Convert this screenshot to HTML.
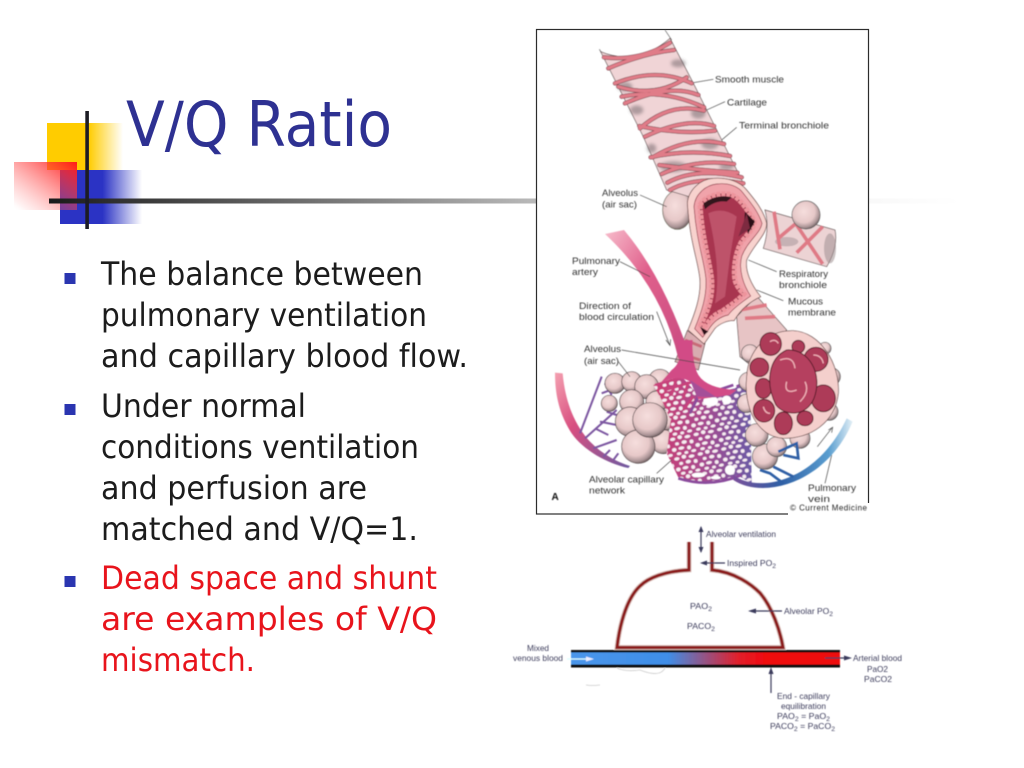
<!DOCTYPE html>
<html><head><meta charset="utf-8"><title>V/Q Ratio</title>
<style>html,body{margin:0;padding:0;background:#fff}svg{display:block}
text{font-variant-ligatures:none}
.b{font-family:"DejaVu Sans","Liberation Sans",sans-serif;font-size:32px;fill:#1c1c1c}
.r{fill:#e8141c}
.l{font-family:"Liberation Sans",sans-serif;font-size:9.5px;fill:#333}
.d{font-family:"Liberation Sans",sans-serif;font-size:8.3px;fill:#3d3d5c}
.s{font-size:6.5px}
.bu{fill:#2a35b0}
</style></head><body>
<svg width="1024" height="768" viewBox="0 0 1024 768" xmlns="http://www.w3.org/2000/svg">
<defs>
<linearGradient id="yg"><stop offset="0" stop-color="#ffcc00"/><stop offset=".55" stop-color="#ffcc00"/><stop offset="1" stop-color="#ffcc00" stop-opacity="0"/></linearGradient>
<linearGradient id="bg"><stop offset="0" stop-color="#2b33c4"/><stop offset=".52" stop-color="#2b33c4"/><stop offset="1" stop-color="#2b33c4" stop-opacity="0"/></linearGradient>
<linearGradient id="rg" x1="1" y1="0" x2="0" y2="1"><stop offset="0" stop-color="#ff1a1a"/><stop offset=".9" stop-color="#ff6a6a" stop-opacity=".08"/><stop offset="1" stop-color="#fff" stop-opacity="0"/></linearGradient>
<linearGradient id="lg"><stop offset="0" stop-color="#1a1a1a"/><stop offset=".28" stop-color="#6e6e6e"/><stop offset=".53" stop-color="#b8b8b8"/><stop offset=".8" stop-color="#f2f2f2"/><stop offset="1" stop-color="#fff"/></linearGradient>
<linearGradient id="vg"><stop offset="0" stop-color="#4a96ea"/><stop offset=".36" stop-color="#3f8ee8"/><stop offset=".62" stop-color="#e0202c"/><stop offset=".72" stop-color="#f00a10"/><stop offset="1" stop-color="#ee0a10"/></linearGradient>
<radialGradient id="sp" cx=".42" cy=".38" r=".66"><stop offset="0" stop-color="#f6dedd"/><stop offset=".6" stop-color="#e6c8c8"/><stop offset=".85" stop-color="#a89294"/><stop offset="1" stop-color="#5e5052"/></radialGradient>
<linearGradient id="art" x1="0" y1="0" x2="1" y2="1"><stop offset="0" stop-color="#f7bccb"/><stop offset=".4" stop-color="#e0608c"/><stop offset="1" stop-color="#c84a80"/></linearGradient>
<linearGradient id="net"><stop offset="0" stop-color="#cf3c70"/><stop offset=".5" stop-color="#a84a90"/><stop offset="1" stop-color="#6b5aa5"/></linearGradient>
<linearGradient id="lar" x1="0" y1="0" x2="1" y2="1"><stop offset="0" stop-color="#f4a0b0"/><stop offset=".4" stop-color="#d84f80"/><stop offset="1" stop-color="#6d5aa0"/></linearGradient>
<linearGradient id="vn" x1="0" y1="0" x2="1" y2="0"><stop offset="0" stop-color="#7a4f9a"/><stop offset=".4" stop-color="#2e5fa5"/><stop offset=".8" stop-color="#5a9ed0"/><stop offset="1" stop-color="#e4f0f6"/></linearGradient>
<pattern id="holes" width="72" height="60" patternUnits="userSpaceOnUse" patternTransform="rotate(-12)">
<g fill="#f8eef2">
<ellipse cx="10" cy="8" rx="8" ry="5"/><ellipse cx="32" cy="6" rx="7" ry="6"/><ellipse cx="55" cy="9" rx="9" ry="5"/>
<ellipse cx="20" cy="24" rx="6" ry="5"/><ellipse cx="42" cy="23" rx="8" ry="5.500"/><ellipse cx="64" cy="26" rx="6" ry="6"/>
<ellipse cx="8" cy="40" rx="7" ry="6"/><ellipse cx="30" cy="39" rx="9" ry="5"/><ellipse cx="53" cy="42" rx="6" ry="6"/>
<ellipse cx="20" cy="54" rx="7" ry="4.500"/><ellipse cx="42" cy="55" rx="6" ry="4.500"/><ellipse cx="65" cy="54" rx="8" ry="4.500"/>
</g></pattern>
<filter id="soft" x="-5%" y="-5%" width="110%" height="110%"><feGaussianBlur stdDeviation=".4"/></filter>
<filter id="soft2" x="-30%" y="-30%" width="160%" height="160%"><feGaussianBlur stdDeviation="5"/></filter>
</defs>

<!-- decoration -->
<rect x="47" y="123" width="76" height="47" fill="url(#yg)"/>
<rect x="60" y="170" width="82" height="54" fill="url(#bg)"/>
<rect x="14" y="162" width="63" height="48" fill="url(#rg)"/>
<rect x="49" y="198.500" width="911" height="5" fill="url(#lg)"/>
<rect x="85.300" y="111" width="3.600" height="118" fill="#1c1c24"/>

<text x="126" y="146" textLength="266" lengthAdjust="spacingAndGlyphs" font-family="DejaVu Sans, Liberation Sans, sans-serif" font-size="62" fill="#2e3192">V/Q Ratio</text>

<!-- bullets -->
<rect class="bu" x="64.500" y="273" width="11" height="11"/>
<rect class="bu" x="64.500" y="404" width="11" height="11"/>
<rect class="bu" x="64.500" y="576" width="11" height="11"/>
<g>
<text class="b" x="101" y="285" textLength="322" lengthAdjust="spacingAndGlyphs">The balance between</text>
<text class="b" x="101" y="326" textLength="326" lengthAdjust="spacingAndGlyphs">pulmonary ventilation</text>
<text class="b" x="101" y="367" textLength="367" lengthAdjust="spacingAndGlyphs">and capillary blood flow.</text>
<text class="b" x="101" y="417" textLength="205" lengthAdjust="spacingAndGlyphs">Under normal</text>
<text class="b" x="101" y="458" textLength="318" lengthAdjust="spacingAndGlyphs">conditions ventilation</text>
<text class="b" x="101" y="499" textLength="266" lengthAdjust="spacingAndGlyphs">and perfusion are</text>
<text class="b" x="101" y="540" textLength="317" lengthAdjust="spacingAndGlyphs">matched and V/Q=1.</text>
<text class="b r" x="101" y="589" textLength="336" lengthAdjust="spacingAndGlyphs">Dead space and shunt</text>
<text class="b r" x="101" y="630" textLength="336" lengthAdjust="spacingAndGlyphs">are examples of V/Q</text>
<text class="b r" x="101" y="671" textLength="154" lengthAdjust="spacingAndGlyphs">mismatch.</text>
</g>

<!-- image frame -->
<rect x="536.500" y="29.500" width="332" height="484.500" fill="#fff" stroke="#2c2c2c" stroke-width="1.200"/>
<rect x="788" y="503" width="82" height="13" fill="#fff"/>

<g filter="url(#soft)">
<!-- tube: coordinates origin 530,20 -->
<g transform="translate(530,20) scale(.33333)">
<path d="M405,30L425,60M208,88L225,115" stroke="#555" stroke-width="2" fill="none"/>
<ellipse cx="442" cy="570" rx="44" ry="58" fill="url(#sp)" stroke="#665" stroke-width="2"/>
<path d="M212,95Q320,140 420,55L490,190L575,360L640,490Q560,455 478,530L410,510L340,350L260,190Z" fill="#f0d4d6" stroke="#5a4a4a" stroke-width="2"/>
<g fill="#6d6266" opacity=".5" filter="url(#soft2)">
<ellipse cx="285" cy="200" rx="22" ry="14"/><ellipse cx="445" cy="130" rx="22" ry="12"/><ellipse cx="320" cy="270" rx="20" ry="14"/><ellipse cx="505" cy="280" rx="22" ry="16"/><ellipse cx="540" cy="372" rx="26" ry="16"/><ellipse cx="430" cy="440" rx="40" ry="16"/><ellipse cx="590" cy="440" rx="22" ry="10"/><ellipse cx="365" cy="385" rx="14" ry="14"/>
</g>
<g fill="none" stroke="#6a3a42" stroke-width="13" stroke-linecap="round">
<path d="M222,112Q330,125 420,68M235,145Q340,100 432,90M255,190Q380,140 485,190M265,200Q380,235 470,172M275,230Q400,205 522,262M285,250Q420,190 505,225M330,325Q420,245 522,272M328,318Q450,345 555,332M345,350Q470,290 552,318M368,412Q480,345 582,372M362,412Q480,385 600,408M388,435Q500,450 622,458M395,462Q500,415 612,432M412,488Q500,440 635,472M420,510Q500,465 640,490"/>
</g>
<g fill="none" stroke="#e07c88" stroke-width="10" stroke-linecap="round">
<path d="M222,112Q330,125 420,68M235,145Q340,100 432,90M255,190Q380,140 485,190M265,200Q380,235 470,172M275,230Q400,205 522,262M285,250Q420,190 505,225M330,325Q420,245 522,272M328,318Q450,345 555,332M345,350Q470,290 552,318M368,412Q480,345 582,372M362,412Q480,385 600,408M388,435Q500,450 622,458M395,462Q500,415 612,432M412,488Q500,440 635,472M420,510Q500,465 640,490"/>
</g>
<g fill="none" stroke="#444" stroke-width="2">
<path d="M490,188L550,178M530,270L585,245M575,360L620,322"/>
</g>
</g>

<!-- bronchiole: origin 600,170 -->
<g transform="translate(600,170) scale(.33333)">
<path d="M495,120L705,180Q715,230 680,290L490,235Q510,175 495,120Z" fill="#ecd3d4" stroke="#5a4a4a" stroke-width="2"/>
<ellipse cx="690" cy="235" rx="18" ry="45" fill="#a08f92" opacity=".55"/>
<ellipse cx="560" cy="215" rx="35" ry="14" fill="#8f8084" opacity=".4"/>
<g fill="none" stroke="#df7a86" stroke-width="11">
<path d="M522,125L540,238M590,165L668,282M668,170L590,248M535,205L600,150"/>
</g>
<circle cx="618" cy="135" r="42" fill="url(#sp)" stroke="#555" stroke-width="2"/>
<path d="M410,440L470,378L560,480L470,600L420,560Z" fill="#e7c4c5" stroke="#5a4a4a" stroke-width="2"/>
<path d="M420,420L500,405M435,445L525,440" stroke="#df7a86" stroke-width="11" fill="none"/>
<path d="M262,482L315,520L295,600L225,575Z" fill="#d8acb0" stroke="#5a4a4a" stroke-width="2"/>
<path d="M255,510L305,530M240,550L300,570" stroke="#c86a78" stroke-width="9" fill="none"/>
<path d="M262,100C265,60 300,28 340,25C385,22 420,35 440,60C465,90 490,120 500,160C500,195 460,225 440,270C435,300 450,340 482,380C450,395 425,415 402,452C385,450 360,460 345,475L312,522L264,480C285,430 303,380 300,330C297,280 270,220 262,100Z" fill="#f8d2ce" stroke="#5a3333" stroke-width="2"/>
<path d="M282,110C285,70 320,45 350,42C385,38 415,48 430,70C450,95 475,125 486,160C482,190 440,215 425,260C415,300 430,345 452,378C420,400 395,420 385,435C360,440 340,455 325,480L308,502L284,476C305,425 320,380 318,330C315,280 290,220 282,110Z" fill="#f0a3aa" stroke="#8a3040" stroke-width="2"/>
<path d="M300,105C310,85 345,68 385,72C420,78 440,120 462,150C468,170 445,190 425,215C405,250 400,300 405,330C410,350 425,365 432,372C410,395 385,410 365,425C345,432 325,450 312,478L302,465C325,420 338,380 335,330C330,280 305,200 300,105Z" fill="#a83650" stroke="#5c1a2c" stroke-width="2"/>
<path d="M300,105C310,85 345,68 385,72C420,78 440,120 462,150C468,170 445,190 425,215C405,250 400,300 405,330C410,350 425,365 432,372C410,395 385,410 365,425C345,432 325,450 312,478L302,465C325,420 338,380 335,330C330,280 305,200 300,105Z" fill="none" stroke="#ee949c" stroke-width="15" stroke-dasharray="12 3"/>
<path d="M325,130Q370,110 410,140L390,260L375,380L345,400Q365,300 325,130Z" fill="#c65c74" opacity=".75"/>
<path d="M310,100Q350,70 395,82L380,95Q345,90 315,118Z" fill="#33141f"/>
<path d="M435,125L465,155L445,190L432,160Z" fill="#2c1119"/>
<path d="M415,200L440,130L450,175Z" fill="#7d2a40"/>
<path d="M300,470L325,485L312,495Z" fill="#2c1119"/>
<path d="M15,192L72,180Q190,320 270,560L235,565Q185,350 15,192Z" fill="url(#art)"/>
<g fill="none" stroke="#444" stroke-width="2">
<path d="M120,75L200,110M60,275L150,320M445,270L530,305M470,360L550,392M170,425L208,522"/>
<path d="M198,510L210,526L212,508"/>
</g>
</g>

<!-- left lower: origin 550,340 -->
<g transform="translate(550,340) scale(.33333)">
<path d="M15,98L38,100C45,180 70,250 120,305C160,345 200,365 240,378L235,384C170,370 100,330 65,280C30,225 15,170 15,98Z" fill="url(#lar)"/>
<g fill="none" stroke="#7c56a0" stroke-width="6">
<path d="M90,280L155,110M105,295L200,210M130,325L200,300M160,350L180,330M190,360L205,340M170,215L200,225M155,160L195,145M165,130L185,165M150,245L200,255M135,265L175,285"/>
</g>
<g fill="url(#sp)" stroke="#4a3e40" stroke-width="2">
<circle cx="195" cy="130" r="30"/><circle cx="178" cy="190" r="24"/><circle cx="330" cy="122" r="34"/><circle cx="245" cy="125" r="30"/><circle cx="340" cy="305" r="36"/><circle cx="350" cy="240" r="30"/><circle cx="290" cy="140" r="36"/><circle cx="320" cy="185" r="32"/><circle cx="245" cy="185" r="36"/><circle cx="240" cy="245" r="44"/><circle cx="265" cy="320" r="50"/><circle cx="300" cy="240" r="52"/>
</g>
<path d="M310,135L400,115L440,160L480,160L555,145L600,110L605,430L570,410L520,425L450,430L385,412L350,340L362,240L335,180Z" fill="url(#net)"/>
<path d="M310,135L400,115L440,160L480,160L555,145L600,110L605,430L570,410L520,425L450,430L385,412L350,340L362,240L335,180Z" fill="url(#holes)"/>
<g fill="none" stroke="#c8427c" stroke-width="8"><path d="M315,135L440,100M345,150L430,125M380,110L365,165M415,125L400,175M430,170L400,210"/></g>
<g fill="none" stroke="#8a4c9c" stroke-width="8"><path d="M460,165L550,135M450,160L420,220M560,140L600,120M385,415Q480,445 575,405"/></g>
<g fill="#fff"><ellipse cx="482" cy="183" rx="22" ry="16"/><ellipse cx="530" cy="180" rx="14" ry="13"/><ellipse cx="540" cy="390" rx="15" ry="15"/><ellipse cx="445" cy="405" rx="20" ry="7"/><ellipse cx="497" cy="413" rx="15" ry="5"/></g>
<path d="M378,0L428,0Q425,50 440,95Q460,145 560,150L540,165Q470,175 445,178L425,128Q385,100 330,130L365,90Q405,60 378,0Z" fill="#d24c86"/>
<path d="M420,120L440,170L500,172Z" fill="#a55098"/>
<g fill="none" stroke="#444" stroke-width="2">
<path d="M215,30L570,90M205,65L240,110M320,400L365,360"/>
</g>
</g>

<!-- right cluster: origin 530,270 -->
<g transform="translate(530,270) scale(.33333)">
<g fill="url(#sp)" stroke="#555" stroke-width="2">
<circle cx="705" cy="560" r="38"/><circle cx="680" cy="495" r="34"/><circle cx="740" cy="530" r="30"/><circle cx="810" cy="505" r="30"/><circle cx="650" cy="400" r="28"/><circle cx="660" cy="250" r="26"/><circle cx="905" cy="320" r="26"/><circle cx="898" cy="425" r="26"/><circle cx="655" cy="335" r="28"/><circle cx="885" cy="235" r="18"/>
</g>
<path d="M790,182C870,186 930,280 925,370C915,460 840,505 760,505C680,500 640,410 650,320C655,240 710,180 790,182Z" fill="#f4cfcc" stroke="#5a3a3a" stroke-width="2"/>
<g fill="#ad3a58" stroke="#5c1c2c" stroke-width="3">
<ellipse cx="722" cy="222" rx="32" ry="34"/><circle cx="805" cy="230" r="19"/><ellipse cx="858" cy="268" rx="36" ry="36"/><ellipse cx="880" cy="385" rx="36" ry="40"/><ellipse cx="825" cy="445" rx="24" ry="22"/><ellipse cx="760" cy="460" rx="27" ry="34"/><ellipse cx="702" cy="422" rx="32" ry="34"/><ellipse cx="700" cy="355" rx="24" ry="30"/><ellipse cx="688" cy="292" rx="28" ry="28"/>
</g>
<path d="M770,240C835,235 880,310 852,385C830,440 765,440 738,405C705,340 715,265 770,240Z" fill="#b5405e" stroke="#5c1c2c" stroke-width="3"/>
<path d="M750,270Q790,255 795,295M770,335Q760,375 800,360M810,395Q840,365 825,335M720,215Q735,205 745,220M850,255Q875,255 880,280M700,410Q705,430 720,430" stroke="#f0b0b8" stroke-width="4" fill="none"/>
<path d="M610,615C680,670 860,640 950,445L968,455C890,640 700,690 610,630Z" fill="url(#vn)"/>
<path d="M690,600L720,610L760,640M730,590L790,620M745,545L800,520L805,565L760,555" stroke="#2e5fa5" stroke-width="8" fill="none"/>
<g fill="none" stroke="#444" stroke-width="2">
<path d="M885,640L905,555M862,530L905,475"/><path d="M895,480L908,472L905,488"/>
</g>
</g>
</g>

<!-- image labels -->
<g filter="url(#soft)">
<text class="l" x="715" y="82.500" textLength="69" lengthAdjust="spacingAndGlyphs">Smooth muscle</text>
<text class="l" x="727" y="105.500" textLength="40" lengthAdjust="spacingAndGlyphs">Cartilage</text>
<text class="l" x="739" y="128.500" textLength="90" lengthAdjust="spacingAndGlyphs">Terminal bronchiole</text>
<text class="l" x="602" y="196" textLength="36" lengthAdjust="spacingAndGlyphs">Alveolus</text>
<text class="l" x="602" y="207.500" textLength="35" lengthAdjust="spacingAndGlyphs">(air sac)</text>
<text class="l" x="572" y="264" textLength="48" lengthAdjust="spacingAndGlyphs">Pulmonary</text>
<text class="l" x="572" y="275" textLength="26" lengthAdjust="spacingAndGlyphs">artery</text>
<text class="l" x="779" y="277" textLength="49" lengthAdjust="spacingAndGlyphs">Respiratory</text>
<text class="l" x="779" y="288" textLength="48" lengthAdjust="spacingAndGlyphs">bronchiole</text>
<text class="l" x="788" y="304.500" textLength="35" lengthAdjust="spacingAndGlyphs">Mucous</text>
<text class="l" x="788" y="315.500" textLength="48" lengthAdjust="spacingAndGlyphs">membrane</text>
<text class="l" x="579" y="309" textLength="52" lengthAdjust="spacingAndGlyphs">Direction of</text>
<text class="l" x="579" y="320" textLength="75" lengthAdjust="spacingAndGlyphs">blood circulation</text>
<text class="l" x="584" y="352" textLength="37" lengthAdjust="spacingAndGlyphs">Alveolus</text>
<text class="l" x="584" y="364" textLength="35" lengthAdjust="spacingAndGlyphs">(air sac)</text>
<text class="l" x="589" y="482.500" textLength="75" lengthAdjust="spacingAndGlyphs">Alveolar capillary</text>
<text class="l" x="589" y="493.500" textLength="36" lengthAdjust="spacingAndGlyphs">network</text>
<text class="l" x="808" y="491" textLength="48" lengthAdjust="spacingAndGlyphs">Pulmonary</text>
<text class="l" x="808" y="502" textLength="22" lengthAdjust="spacingAndGlyphs">vein</text>
<text class="l" x="790" y="510.500" textLength="77" style="font-size:8px;fill:#222">© Current Medicine</text>
<text class="l" x="551.500" y="500" style="font-size:10px;font-weight:bold;fill:#111">A</text>
</g>

<!-- lower diagram -->
<g filter="url(#soft)">
<rect x="571" y="650" width="269" height="17.500" fill="#080808"/>
<rect x="571" y="652.500" width="269" height="12" fill="url(#vg)"/>
<path d="M689,542V570C665,571 648,578 640,586C625,600 619,630 617,647.500H783C780,630 772,607 760,593C752,585 735,572 712,570V542" fill="none" stroke="#e6cfca" stroke-width="5"/>
<path d="M689,542V570C665,571 648,578 640,586C625,600 619,630 617,647.500H783C780,630 772,607 760,593C752,585 735,572 712,570V542" fill="none" stroke="#8c1a1a" stroke-width="3.200"/>
<path d="M617,668Q625,672 640,670Q660,678 665,668M586,685Q592,686 600,685" fill="none" stroke="#ccc" stroke-width=".8"/>
<g stroke="#3a3a5c" stroke-width="1" fill="#3a3a5c">
<path d="M701,527V552" stroke-width="1.200"/><path d="M701,526l-2.500,6h5zM701,553l-2.500,-6h5z" stroke="none"/>
<path d="M725,563H704" stroke-width="1.200"/><path d="M700,563l7,-2.500v5z" stroke="none"/>
<path d="M782,611H751" stroke-width="1.200"/><path d="M748,611l8,-2.500v5z" stroke="none"/>
<path d="M771,670V693" stroke-width="1.200"/><path d="M771,667l-2.500,7h5z" stroke="none"/>
<path d="M825,658H848" stroke-width="1.200"/><path d="M852,658l-8,-2.500v5z" stroke="none"/>
</g>
<path d="M567,659H590" stroke="#dff" stroke-width="1.200"/><path d="M594,659l-8,-2.500v5z" fill="#eef"/>
</g>
<g filter="url(#soft)">
<text class="d" x="706" y="537" textLength="70" lengthAdjust="spacingAndGlyphs">Alveolar ventilation</text>
<text class="d" x="727" y="566" textLength="49" lengthAdjust="spacingAndGlyphs">Inspired PO<tspan class="s" dy="2">2</tspan></text>
<text class="d" x="690" y="609" textLength="22" lengthAdjust="spacingAndGlyphs">PAO<tspan class="s" dy="2">2</tspan></text>
<text class="d" x="687" y="629" textLength="28" lengthAdjust="spacingAndGlyphs">PACO<tspan class="s" dy="2">2</tspan></text>
<text class="d" x="784" y="614" textLength="49" lengthAdjust="spacingAndGlyphs">Alveolar PO<tspan class="s" dy="2">2</tspan></text>
<text class="d" x="527" y="651" textLength="22" lengthAdjust="spacingAndGlyphs">Mixed</text>
<text class="d" x="513" y="661" textLength="50" lengthAdjust="spacingAndGlyphs">venous blood</text>
<text class="d" x="853" y="661" textLength="49" lengthAdjust="spacingAndGlyphs">Arterial blood</text>
<text class="d" x="867" y="672" textLength="21" lengthAdjust="spacingAndGlyphs">PaO2</text>
<text class="d" x="864" y="682" textLength="28" lengthAdjust="spacingAndGlyphs">PaCO2</text>
<text class="d" x="777" y="699" textLength="53" lengthAdjust="spacingAndGlyphs">End - capillary</text>
<text class="d" x="781" y="709" textLength="45" lengthAdjust="spacingAndGlyphs">equilibration</text>
<text class="d" x="777" y="719" textLength="53" lengthAdjust="spacingAndGlyphs">PAO<tspan class="s" dy="2">2</tspan><tspan dy="-2"> = PaO</tspan><tspan class="s" dy="2">2</tspan></text>
<text class="d" x="770" y="729" textLength="65" lengthAdjust="spacingAndGlyphs">PACO<tspan class="s" dy="2">2</tspan><tspan dy="-2"> = PaCO</tspan><tspan class="s" dy="2">2</tspan></text>
</g>
</svg>
</body></html>
